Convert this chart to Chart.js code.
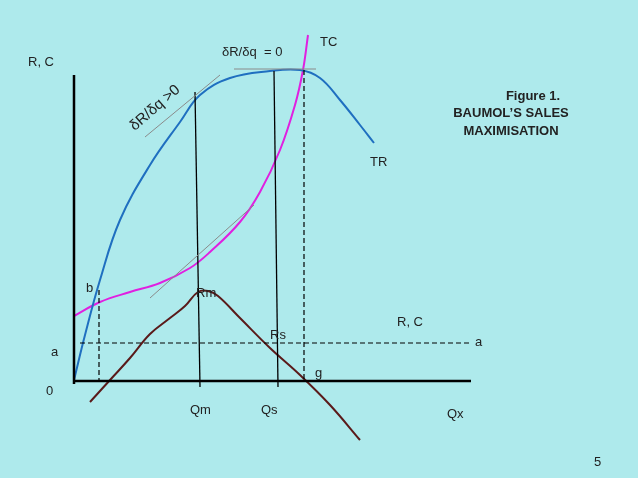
<!DOCTYPE html><html><head><meta charset="utf-8">
<script src="https://cdn.jsdelivr.net/npm/chart.js@4"></script>
<style>html,body{margin:0;background:#aeeaec}</style></head><body>
<canvas id="c" width="638" height="478"></canvas>
<script>
// Diagram values in chart units (x: quantity axis units, y: value axis units, y grows downward)
const trX=[74,85,100,120,150,180,200,230,270,300,320,340,360,374];
const trY=[380,335,280,220,165,122,95,78,71,70,78,100,125,143];
const tcX=[74,100,130,160,190,210,240,260,280,295,303,308];
const tcY=[316,302,292,283,268,252,222,192,150,105,70,35];
const prX=[90,110,130,150,170,185,198,208,218,240,270,300,330,360];
const prY=[402,380,358,334,318,306,292,291,296,318,348,375,405,440];
const labels=[["R, C",28,62],["δR/δq  = 0",222,52],["TC",320,42],["TR",370,162],["b",86,288],["Rm",196,293],["R, C",397,322],["Rs",270,335],["a",475,342],["a",51,352],["g",315,373],["0",46,391],["Qm",190,410],["Qs",261,410],["Qx",447,414],["5",594,462]];
const pts=(xs,ys)=>xs.map((x,i)=>({x,y:ys[i]}));
const seg=(a,b,c,d)=>[{x:a,y:b},{x:c,y:d}];
const L=(data,color,w,dash,tension)=>({data,borderColor:color,borderWidth:w,borderDash:dash||[],pointRadius:0,showLine:true,fill:false,tension:tension||0});
const textPlugin={id:'txt',afterDraw(ch){const c=ch.ctx,xs=ch.scales.x,ys=ch.scales.y;c.save();c.fillStyle='#222';c.font='13px "Liberation Sans", Arial';c.textBaseline='middle';
for(const [t,x,y] of labels)c.fillText(t,xs.getPixelForValue(x),ys.getPixelForValue(y));
c.font='bold 13px "Liberation Sans", Arial';c.textAlign='center';
c.fillText('Figure 1.',xs.getPixelForValue(533),ys.getPixelForValue(96));
c.fillText('BAUMOL’S SALES',xs.getPixelForValue(511),ys.getPixelForValue(113));
c.fillText('MAXIMISATION',xs.getPixelForValue(511),ys.getPixelForValue(131));
c.font='15px "Liberation Sans", Arial';c.translate(xs.getPixelForValue(155),ys.getPixelForValue(108));c.rotate(-0.72);c.fillText('δR/δq >0',0,0);c.restore();}};
new Chart(document.getElementById('c'),{type:'scatter',data:{datasets:[
L(seg(74,75,74,384),'#000',2.5),L(seg(73,381,471,381),'#000',2.5),
L(seg(145,137,220,75),'#8a8a8a',1),L(seg(234,69,316,69),'#8a8a8a',1),L(seg(150,298,254,205),'#8a8a8a',1),
L(seg(195,92,200,387),'#000',1.3),L(seg(274,71,278,387),'#000',1.3),
L(seg(304,70,304,381),'#000',1.2,[5,3]),L(seg(99,290,99,381),'#000',1.2,[5,3]),L(seg(80,343,470,343),'#000',1.2,[5,3]),
L(pts(trX,trY),'#1f6fc0',2,null,0.4),L(pts(tcX,tcY),'#e020e0',2,null,0.4),L(pts(prX,prY),'#5a1a1a',2,null,0.4)
]},options:{responsive:false,animation:false,layout:{padding:0},plugins:{legend:{display:false},tooltip:{enabled:false}},
scales:{x:{type:'linear',min:0,max:638,display:false},y:{type:'linear',min:0,max:478,reverse:true,display:false}}},plugins:[textPlugin]});
</script></body></html>
